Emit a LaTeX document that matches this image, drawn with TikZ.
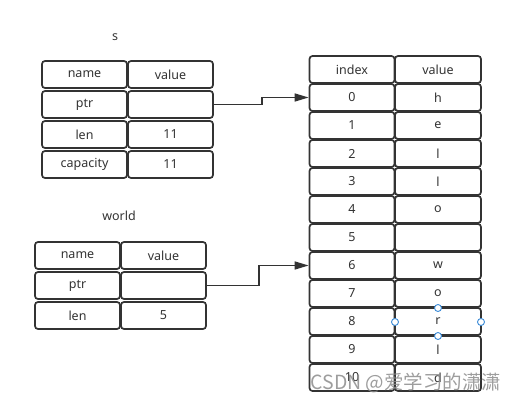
\documentclass[tikz,border=0pt]{standalone}
\usepackage{fontspec}
\setmainfont{Noto Sans}
\newfontfamily\cjkfont{Noto Sans CJK SC}
\usetikzlibrary{positioning,arrows.meta}
\definecolor{ink}{HTML}{333333}
\definecolor{handleblue}{HTML}{3C8CD8}
\begin{document}
\begin{tikzpicture}[x=1pt,y=-1pt,
  cell/.style={draw=ink,line width=1.7pt,rounded corners=3pt,minimum width=85pt,minimum height=27pt,inner sep=0pt,text=ink,font=\fontsize{12.5}{14}\selectfont},
  title/.style={text=ink,font=\fontsize{12.5}{14}\selectfont},
  link/.style={draw=ink,line width=1.5pt,-{Triangle[length=14pt,width=8pt]}},
  handle/.style={draw=handleblue,fill=white,line width=0.9pt}]
\useasboundingbox (0,0) rectangle (517,403);
% struct s
\node[title] (stitle) at (115,37) {s};
\node[cell] (sname) at (84.5,74.5) {name};
\node[cell] (svalue) at (170.5,74.5) {value};
\node[cell] (sptr) at (84.5,104.5) {ptr};
\node[cell] (sptrv) at (170.5,104.5) {};
\node[cell] (slen) at (84.5,134.5) {len};
\node[cell] (slenv) at (170.5,134.5) {11};
\node[cell] (scap) at (84.5,164.5) {capacity};
\node[cell] (scapv) at (170.5,164.5) {11};
% slice world
\node[title] (wtitle) at (119,216) {world};
\node[cell] (wname) at (77.5,255.5) {name};
\node[cell] (wvalue) at (163.5,255.5) {value};
\node[cell] (wptr) at (77.5,285.5) {ptr};
\node[cell] (wptrv) at (163.5,285.5) {};
\node[cell] (wlen) at (77.5,315.5) {len};
\node[cell] (wlenv) at (163.5,315.5) {5};
% heap bytes
\node[cell] (hindex) at (352,69.5) {index};
\node[cell,minimum width=86pt] (hvalue) at (438,69.5) {value};
\foreach \i/\c in {0/h,1/e,2/l,3/l,4/o,5/{},6/w,7/o,8/r,9/l,10/d}{
  \node[cell] (i\i) at (352,97.5+28*\i) {\i};
  \node[cell,minimum width=86pt] (r\i) at (438,97.5+28*\i) {\c};
}
%
\draw[link] (sptrv.east) -- ++(48,0) |- (i0.west);
\draw[link] (wptrv.east) -- ++(52,0) |- (i6.west);
%
\foreach \p in {(438,308),(395,322),(481,322),(438,336)}
  \draw[handle] \p circle (3.5pt);
\node[text=black!45,opacity=0.85,font=\cjkfont\fontsize{19.5}{21}\selectfont] (mark) at (406,383) {CSDN @爱学习的潇潇};
\end{tikzpicture}
\end{document}
